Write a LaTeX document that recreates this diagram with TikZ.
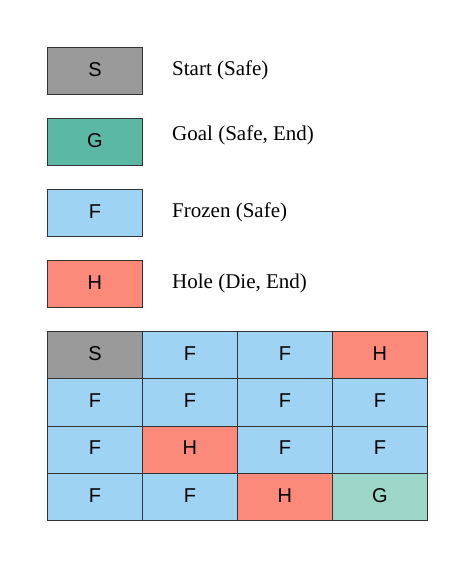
\documentclass[tikz,border=0pt]{standalone}
\usepackage{fontspec}
\setmainfont{Liberation Serif}
\newfontfamily\cellfont{Liberation Sans}
\definecolor{cgray}{HTML}{9A9A9A}
\definecolor{cgreen}{HTML}{5BB9A3}
\definecolor{cgreenl}{HTML}{9BD6C8}
\definecolor{cblue}{HTML}{9ED3F3}
\definecolor{cred}{HTML}{FB8A7B}
\definecolor{cline}{HTML}{333333}
\begin{document}
\begin{tikzpicture}[x=1pt,y=-1pt,
  cell/.style={draw=cline,line width=0.9pt,minimum width=95pt,minimum height=47.3pt,inner sep=0pt,anchor=north west},
  lab/.style={font=\cellfont\fontsize{20}{22}\selectfont,anchor=base,inner sep=0pt},
  desc/.style={font=\fontsize{21}{23}\selectfont,anchor=base west,inner sep=0pt}]
\useasboundingbox (0,0) rectangle (474,568);
% legend
\node[cell,fill=cgray] (ls) at (47,47) {};
\node[lab] (lsl) at ([yshift=-5pt]ls.center) {S};
\node[desc] (lsd) at (172,75.5) {Start (Safe)};
\node[cell,fill=cgreen] (lg) at (47,118) {};
\node[lab] (lgl) at ([yshift=-5pt]lg.center) {G};
\node[desc] (lgd) at (172,140.5) {Goal (Safe, End)};
\node[cell,fill=cblue] (lf) at (47,189) {};
\node[lab] (lfl) at ([yshift=-5pt]lf.center) {F};
\node[desc] (lfd) at (172,217.5) {Frozen (Safe)};
\node[cell,fill=cred] (lh) at (47,260) {};
\node[lab] (lhl) at ([yshift=-5pt]lh.center) {H};
\node[desc] (lhd) at (172,288.5) {Hole (Die, End)};
% grid
\foreach \r/\row in {0/{S/cgray,F/cblue,F/cblue,H/cred},
                     1/{F/cblue,F/cblue,F/cblue,F/cblue},
                     2/{F/cblue,H/cred,F/cblue,F/cblue},
                     3/{F/cblue,F/cblue,H/cred,G/cgreenl}}{
  \foreach \t/\col [count=\c from 0] in \row {
    \node[cell,fill=\col] (g\r\c) at ({47+95*\c},{331+47.3*\r}) {};
    \node[lab] (t\r\c) at ([yshift=-5pt]g\r\c.center) {\t};
  }
}
\end{tikzpicture}
\end{document}
